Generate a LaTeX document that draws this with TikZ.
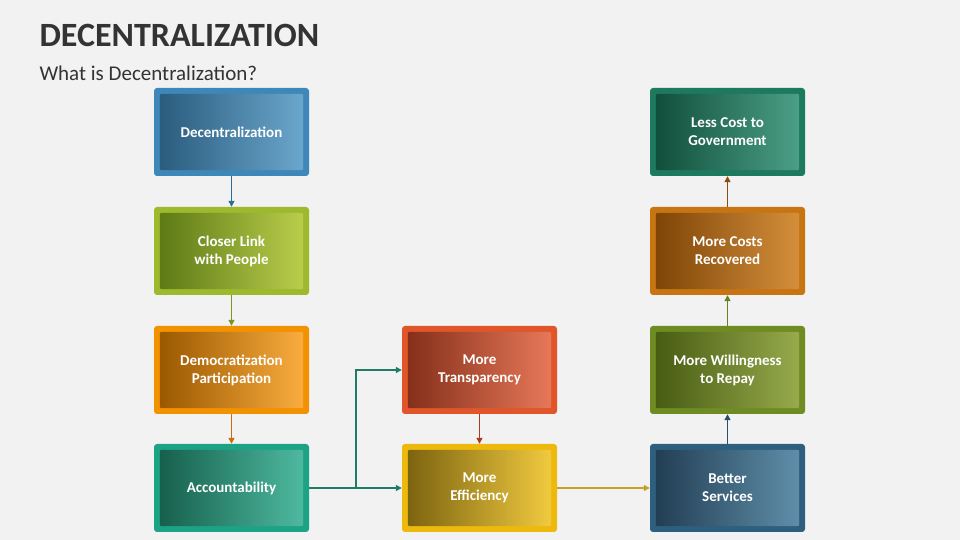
\documentclass[tikz,border=0pt]{standalone}
\usepackage{fontspec}
\setmainfont{Carlito}
\usetikzlibrary{arrows.meta,calc}
\definecolor{bg}{HTML}{F2F2F2}
\newcommand{\bx}[7]{%
 \definecolor{bd#1}{HTML}{#4}\definecolor{dk#1}{HTML}{#5}\definecolor{lt#1}{HTML}{#6}%
 \node[fill=bd#1,rounded corners=3pt,minimum width=155pt,minimum height=88pt,inner sep=0pt] (#1) at (#2,#3) {};
 \shade[left color=dk#1,right color=lt#1,rounded corners=2pt] ($(#1.south west)+(6pt,6pt)$) rectangle ($(#1.north east)-(6pt,6pt)$);
 \node[txt] at (#1) {#7};}
\begin{document}
\begin{tikzpicture}[x=1pt,y=1pt,
 txt/.style={text=white,font=\fontsize{15}{18}\selectfont\bfseries,align=center},
 conn/.style={line width=1.3pt,-{Triangle[length=6pt,width=6pt]}}]
\fill[bg] (0,0) rectangle (960,540);
\useasboundingbox (0,0) rectangle (960,540);
\node[anchor=west,font=\fontsize{34}{40}\selectfont\bfseries,text=black!80] (title) at (36,505) {DECENTRALIZATION};
\node[anchor=west,font=\fontsize{21}{25}\selectfont,text=black!80] (sub) at (36,467) {What is Decentralization?};
\bx{a}{231.5}{408}{3E88B9}{2A5C7E}{6BA6CC}{Decentralization}
\bx{b}{231.5}{289}{9DB92D}{5D7A15}{BACD4B}{Closer Link\\with People}
\bx{c}{231.5}{170}{F39200}{9A5800}{FAAC3E}{Democratization\\Participation}
\bx{d}{231.5}{52}{1CA386}{16604D}{4EB9A0}{Accountability}
\bx{e}{479.5}{170}{E0562A}{852F1A}{E77859}{More\\Transparency}
\bx{f}{479.5}{52}{EDB90D}{7C6410}{F1CA3F}{More\\Efficiency}
\bx{g}{727.5}{52}{2F5F7E}{223E54}{5F8EA9}{Better\\Services}
\bx{h}{727.5}{170}{6F8C22}{485C13}{97AA4C}{More Willingness\\to Repay}
\bx{i}{727.5}{289}{C77512}{7E4507}{D58F3B}{More Costs\\Recovered}
\bx{j}{727.5}{408}{1D7A5E}{114F3B}{4B9F86}{Less Cost to\\Government}
\draw[conn,color={rgb,255:red,46;green,110;blue,150}] (a) -- (b);
\draw[conn,color={rgb,255:red,125;green,150;blue,30}] (b) -- (c);
\draw[conn,color={rgb,255:red,200;green,110;blue,10}] (c) -- (d);
\draw[conn,color={rgb,255:red,30;green,125;blue,100}] (d) -- (f);
\draw[conn,color={rgb,255:red,30;green,125;blue,100}] (d.east) -- (356,52) |- (e.west);
\draw[conn,color={rgb,255:red,170;green,60;blue,30}] (e) -- (f);
\draw[conn,color={rgb,255:red,200;green,160;blue,40}] (f) -- (g);
\draw[conn,color={rgb,255:red,40;green,80;blue,110}] (g) -- (h);
\draw[conn,color={rgb,255:red,100;green,130;blue,35}] (h) -- (i);
\draw[conn,color={rgb,255:red,140;green,75;blue,15}] (i) -- (j);
\end{tikzpicture}
\end{document}
